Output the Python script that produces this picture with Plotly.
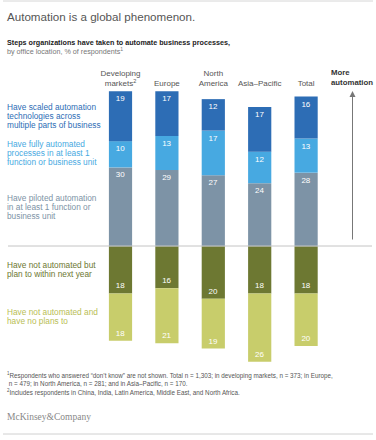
import plotly.graph_objects as go

categories = ["Developing<br>markets<sup>2</sup>", "Europe", "North<br>America", "Asia–Pacific", "Total"]
scaled = [19, 17, 12, 17, 16]
fully = [10, 13, 17, 12, 13]
piloted = [30, 29, 27, 24, 28]
plan_next_year = [18, 16, 20, 18, 18]
no_plans = [18, 21, 19, 26, 20]

C_SCALED = "#2d6db5"
C_FULLY = "#47a9e1"
C_PILOT = "#7d93a6"
C_PLAN = "#6d7832"
C_NOPLAN = "#c8cd6b"

W, H = 376, 440
PT_PAGE, PB_PAGE = 86, 367  # plot area top/bottom in px
FONT = "Liberation Sans, Arial, sans-serif"


def px_x(px):
    return px / W


def px_y(py):
    return (PB_PAGE - py) / (PB_PAGE - PT_PAGE)


fig = go.Figure()


def add_bar(vals, color, sign):
    fig.add_trace(go.Bar(
        x=categories, y=[sign * v for v in vals], text=[str(v) for v in vals],
        marker=dict(color=color, line=dict(width=0)), width=0.5,
        textposition="inside", insidetextanchor="end", constraintext="none",
        textfont=dict(color="white", size=8, family=FONT),
        hoverinfo="skip", showlegend=False,
    ))


add_bar(piloted, C_PILOT, 1)
add_bar(fully, C_FULLY, 1)
add_bar(scaled, C_SCALED, 1)
add_bar(plan_next_year, C_PLAN, -1)
add_bar(no_plans, C_NOPLAN, -1)

annotations = []


def text_block(lines, x, y_first, color, size, spacing, bold=False, family=FONT):
    for i, ln in enumerate(lines):
        t = f"<b>{ln}</b>" if bold else ln
        annotations.append(dict(
            text=t, xref="paper", yref="paper", x=px_x(x), y=px_y(y_first + i * spacing),
            xanchor="left", yanchor="middle", showarrow=False, borderpad=0,
            font=dict(color=color, size=size, family=family), align="left",
        ))


LX = 6
text_block(["Automation is a global phenomenon."], LX, 16.5, "#555555", 11.6, 0)
text_block(["Steps organizations have taken to automate business processes,"], LX, 42, "#222222", 7.2, 0, bold=True)
text_block(["by office location, % of respondents<sup>1</sup>"], LX, 51, "#777777", 7.2, 0)

text_block(["Have scaled automation", "technologies across", "multiple parts of business"], LX, 107, C_SCALED, 8.3, 9)
text_block(["Have fully automated", "processes in at least 1", "function or business unit"], LX, 144, C_FULLY, 8.3, 9)
text_block(["Have piloted automation", "in at least 1 function or", "business unit"], LX, 198, C_PILOT, 8.3, 9)
text_block(["Have not automated but", "plan to within next year"], LX, 265, C_PLAN, 8.3, 9)
text_block(["Have not automated and", "have no plans to"], LX, 312, "#b9be55", 8.3, 9)

text_block(["More", "automation"], 330, 72.5, "#333333", 7.8, 9.5, bold=True)

text_block(["<sup>1</sup>Respondents who answered “don’t know” are not shown. Total n = 1,303; in developing markets, n = 373; in Europe,",
            " n = 479; in North America, n = 281; and in Asia–Pacific, n = 170.",
            "<sup>2</sup>Includes respondents in China, India, Latin America, Middle East, and North Africa."],
           LX, 375, "#555555", 6.3, 8.5)
text_block(["McKinsey&amp;Company"], LX, 417, "#888888", 9.5, 0, family="Liberation Serif, Times New Roman, serif")

# arrow
annotations.append(dict(
    xref="paper", yref="paper", x=px_x(352.5), y=px_y(91), text="",
    showarrow=True, arrowhead=2, arrowsize=1.2, arrowwidth=1, arrowcolor="#777777",
    axref="pixel", ayref="pixel", ax=0, ay=150,
))

shapes = [
    dict(type="line", xref="paper", yref="paper", x0=px_x(8), x1=px_x(372), y0=px_y(246), y1=px_y(246),
         line=dict(color="#c4c4c4", width=1)),
    dict(type="line", xref="paper", yref="paper", x0=px_x(3), x1=px_x(373), y0=px_y(1), y1=px_y(1),
         line=dict(color="#d6d6d6", width=1)),
    dict(type="line", xref="paper", yref="paper", x0=px_x(3), x1=px_x(373), y0=px_y(434), y1=px_y(434),
         line=dict(color="#d0d0d0", width=1)),
]

# category x-range so that bar centres land at the reference pixel positions
X0_PX, STEP_PX = 120.5, 46.4
x_range = [(0 - X0_PX) / STEP_PX, (W - X0_PX) / STEP_PX]

fig.update_layout(
    width=W, height=H, autosize=False,
    margin=dict(l=0, r=0, t=PT_PAGE, b=H - PB_PAGE, pad=0),
    barmode="relative",
    plot_bgcolor="white", paper_bgcolor="white",
    font=dict(family=FONT),
    xaxis=dict(side="top", range=x_range, showgrid=False, zeroline=False, showline=False,
               ticks="", ticklabelstandoff=-3,
               tickfont=dict(size=8, color="#555555", family=FONT), fixedrange=True),
    yaxis=dict(range=[-46, 61], visible=False, fixedrange=True),
    annotations=annotations, shapes=shapes,
)

fig.write_html(
    "out.html",
    config={"displayModeBar": False},
    post_script="document.body.style.margin='0';document.body.style.overflow='hidden';"
                "document.documentElement.style.overflow='hidden';",
)
